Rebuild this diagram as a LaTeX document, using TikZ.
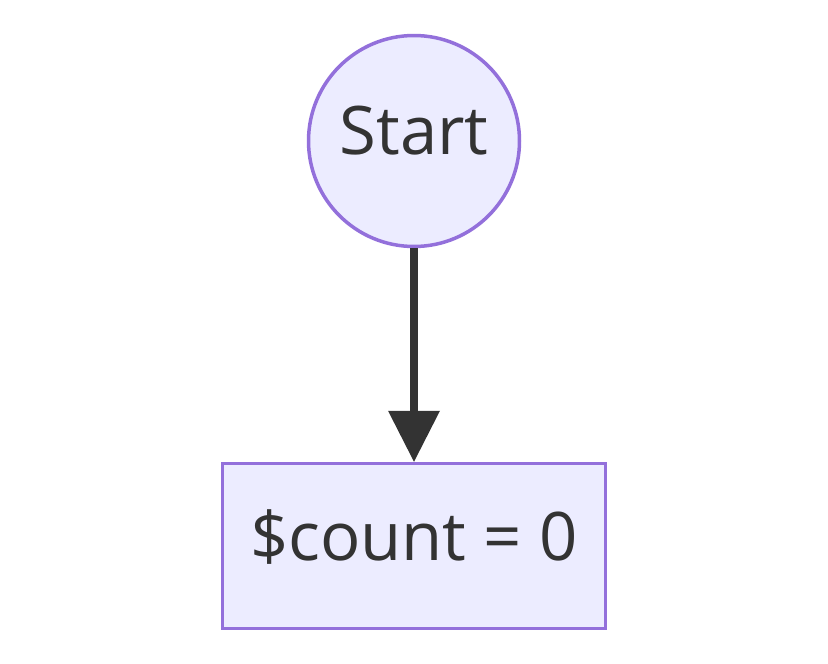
\documentclass[tikz,border=0pt]{standalone}
\usepackage{fontspec}
\setmainfont{Open Sans}
\usetikzlibrary{arrows.meta,positioning}
\definecolor{nodefill}{HTML}{ECECFF}
\definecolor{nodeline}{HTML}{9370DB}
\definecolor{darkgrey}{HTML}{333333}

\begin{document}
\begin{tikzpicture}[
    x = 1pt, y = 1pt,
    line width = 3.5pt,
    font = \fontsize{67}{80}\selectfont,
    text = darkgrey
]
\useasboundingbox (0,0) rectangle (828,-664);
\node[draw = nodeline, fill = nodefill, circle, minimum size = 211pt, text height = 49pt, text depth = 23pt] (start) at (414,-141) {Start};
\node[draw = nodeline, fill = nodefill, rectangle, minimum width = 383pt, minimum height = 165pt, text height = 50pt, text depth = 22pt] (count) [below of = start, node distance = 405pt] {\$count = 0};
% arrows
\path[-{Triangle[length = 51pt, width = 52pt, line width = 0pt]}, color = darkgrey, line width = 8pt]
(start) edge (count)
;

\end{tikzpicture}
\end{document}
